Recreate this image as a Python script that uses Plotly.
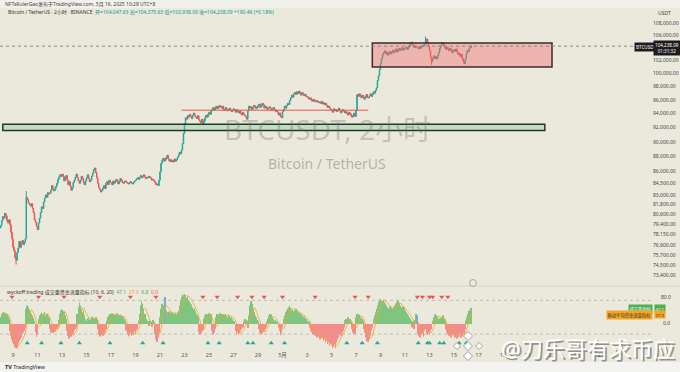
import pandas as pd
import numpy as np
import plotly.graph_objects as go

# ------------------------------------------------------------------ data
START = "2025-04-08 00:00"       # first 2h candle (UTC+8)
FIRST_OPEN = 78900

closes = [
    # Apr 8
    79200, 79800, 80300, 80100, 80700, 80400, 79800, 79500, 79900, 79300, 78400, 77600,
    # Apr 9
    76600, 76200, 75400, 75100, 76000, 76500, 77300, 76600, 77100, 77400, 76900, 77200,
    # Apr 10
    77600, 82700, 82400, 82000, 81800, 81600, 81900, 81300, 80800, 79900, 79600, 79100,
    # Apr 11
    78700, 79500, 80100, 80800, 81500, 81300, 82100, 82600, 83000, 82700, 83300, 83100,
    # Apr 12
    83200, 83600, 84200, 83700, 83500, 83800, 84100, 84500, 85000, 85300, 85600, 85400,
    # Apr 13
    85700, 85400, 84800, 85200, 85500, 84900, 84300, 84700, 84100, 83600, 83900, 84600,
    # Apr 14
    84900, 85300, 85700, 85200, 84800, 84500, 84900, 85400, 85100, 84600, 84300, 84800,
    # Apr 15
    85200, 85600, 85100, 84700, 84900, 85400, 85800, 86300, 86500, 85900, 85200, 84500,
    # Apr 16
    83900, 83700, 83400, 83600, 83900, 84200, 83800, 84500, 84700, 84300, 84900, 84600,
    # Apr 17
    84600, 84300, 84800, 84500, 84700, 85000, 84800, 84400, 84700, 85100, 84900, 84600,
    # Apr 18
    84500, 84700, 84800, 84600, 84500, 84400, 84600, 84700, 84500, 84400, 84600, 84800,
    # Apr 19
    84900, 85100, 85200, 85000, 85300, 85500, 85200, 85400, 85600, 85300, 85100, 85300,
    # Apr 20
    85200, 85400, 85300, 85100, 84900, 85000, 84800, 84600, 84300, 84400, 84200, 84900,
    # Apr 21
    86000, 87100, 87500, 87800, 87400, 87600, 87900, 88200, 87700, 87400, 87600, 87300,
    # Apr 22
    87500, 87300, 87700, 87400, 87600, 87900, 88200, 88600, 88400, 88900, 89800, 91200,
    # Apr 23
    92600, 93400, 93200, 93700, 93500, 93900, 93600, 93300, 93800, 94100, 93700, 93500,
    # Apr 24
    93300, 93700, 93100, 92900, 92700, 93200, 92600, 92900, 93400, 93800, 93500, 93900,
    # Apr 25
    94200, 93900, 94400, 94600, 94900, 94500, 94800, 95100, 94700, 94900, 95200, 95000,
    # Apr 26
    94800, 95100, 94600, 94500, 94900, 94700, 94400, 94600, 94800, 94500, 94300, 94500,
    # Apr 27
    94700, 94500, 94200, 94600, 94300, 94100, 94400, 94000, 93800, 94200, 93900, 93700,
    # Apr 28
    93500, 93200, 94400, 95100, 94800, 95000, 94600, 94900, 95200, 95000, 94700, 94900,
    # Apr 29
    95200, 95400, 94900, 95100, 95500, 95300, 94800, 95100, 94900, 94600, 94800, 95000,
    # Apr 30
    94800, 94500, 94700, 94900, 94600, 94300, 94500, 94200, 93800, 94100, 93600, 93400,
    # May 1
    94300, 94600, 95100, 94800, 95200, 95500, 95300, 95900, 96300, 96700, 96400, 96900,
    # May 2
    97100, 96800, 97200, 96900, 97300, 97000, 96700, 97100, 96900, 96600, 96800, 96500,
    # May 3
    96500, 96300, 96100, 96300, 96000, 95800, 96100, 95900, 95700, 95900, 95800, 95600,
    # May 4
    95700, 95500, 95800, 95400, 95600, 95300, 95500, 95200, 94900, 95100, 94800, 94600,
    # May 5
    94500, 94200, 94700, 94400, 94600, 94300, 94500, 94800, 94400, 94100, 94300, 94600,
    # May 6
    94400, 94100, 94300, 94000, 93800, 94200, 94000, 93700, 93500, 93800, 94100, 93600,
    # May 7
    94500, 96800, 96500, 96900, 96600, 96300, 96700, 96400, 96100, 96500, 96800, 96300,
    # May 8
    96300, 96600, 96900, 96500, 96800, 97200, 97000, 97400, 97800, 98900, 99600, 100600,
    # May 9
    101500, 102300, 102900, 103200, 103500, 103000, 103300, 102800, 103100, 103400, 103000, 103300,
    # May 10
    103600, 103200, 103500, 103800, 103300, 103600, 103900, 103500, 103700, 104000, 103600, 103800,
    # May 11
    103900, 104100, 103700, 104000, 104300, 104600, 104900, 104500, 104200, 104000, 104300, 104100,
    # May 12
    104000, 103800, 104200, 103900, 104100, 104400, 104200, 104500, 104700, 105400, 104900, 104200,
    # May 13
    103500, 102500, 101800, 102300, 102700, 102300, 102600, 102200, 102800, 103300, 103900, 104300,
    # May 14
    104600, 104800, 104300, 104000, 103700, 104100, 103800, 103500, 103900, 103600, 103200, 103500,
    # May 15
    103700, 103400, 103800, 103300, 102900, 103100, 102600, 102900, 102300, 101800, 101500, 102200,
    # May 16
    103000, 103600, 103400, 103900, 104047.63, 104238.09,
]

# notable wick extremes: candle index -> price
wick_highs = {25: 83500, 416: 105800, 461: 104375.63, 380: 99200, 432: 104900}
wick_lows = {15: 74600, 422: 101300, 461: 103938.00, 98: 83300, 454: 101400}

# oscillator histogram (wyckoff volume / money flow), one value per candle
hist = [
    20, 30, 35, 28, 33, 25, 30, 22, 15, -20, -35, -45,
    -55, -60, -70, -65, -72, -58, -50, -45, -40, -30, -25, -20,
    -10, 45, 55, 50, 42, 38, 30, 25, 18, 10, -25, -37,
    -30, 15, 25, 30, 35, 28, 32, 35, 25, 30, 22, 18,
    -15, -25, -20, -27, -18, -22, -10, -15, -8, 12, 30, 40,
    43, 35, 38, 25, 15, -20, -35, -43, -30, -38, -25, -28,
    -20, -15, -10, 30, 50, 64, 55, 45, 35, 40, 25, 15,
    10, 18, 20, 12, 15, 20, 22, 18, 15, 20, 12, -15,
    -30, -37, -33, -25, -35, -28, -20, -15, 10, 20, 25, 30,
    28, 32, 25, 30, 22, 27, 32, 25, 20, 28, 24, 18,
    22, 15, 10, -20, -30, -37, -33, -25, -35, -30, -28, -22,
    -30, -20, -15, 10, 30, 55, 68, 60, 45, 30, 15, 10,
    8, -5, 10, 5, -8, 12, 6, -30, -45, -53, -40, -25,
    20, 45, 60, 55, 50, 80, 40, 35, 30, 37, 33, 28,
    35, 30, 25, 32, 28, 35, 40, 55, 70, 80, 88, 85,
    89, 85, 78, 82, 72, 68, 62, 58, 50, 45, 38, 30,
    25, 20, -25, -32, -28, -20, -15, 15, 25, 30, 22, 28,
    32, 25, 30, -20, -30, -25, -15, 20, 30, 25, 28, 32,
    25, 30, 22, 27, 30, 24, 20, 28, 25, 18, 22, 15,
    10, 8, -20, -30, -25, -32, -28, -20, -15, -10, 8, 15,
    12, 10, -12, 25, 55, 68, 60, 45, 35, 25, 20, 12,
    8, -15, -25, -30, -28, -20, -22, -15, -10, 8, 15, 25,
    30, 28, 20, 15, 10, 12, 8, 5, -10, -20, -33, -28,
    -10, 15, 25, 35, 40, 45, 50, 55, 48, 42, 38, 35,
    40, 45, 38, 32, 35, 28, 30, 25, 20, 22, 18, 15,
    10, 8, 5, -10, -20, -25, -30, -22, -35, -28, -40, -32,
    -38, -45, -35, -42, -50, -45, -55, -48, -60, -55, -65, -58,
    -62, -70, -68, -60, -72, -55, -45, -40, -30, -35, -25, -20,
    -10, 12, 15, 8, 20, 10, 15, 5, -15, -25, -30, -28,
    20, 30, 25, 28, 22, 18, 15, 10, -15, -25, -40, -50,
    -53, -45, -35, -20, -10, 15, 25, 35, 45, 55, 65, 72,
    75, 70, 68, 72, 65, 60, 55, 50, 45, 52, 48, 42,
    45, 50, 55, 60, 65, 70, 62, 55, 50, 45, 52, 48,
    40, 35, 30, 25, 20, 15, 10, -10, 8, -15, 12, 30,
    25, -30, -35, -40, -30, -25, -38, -20, -15, -28, -32, -25,
    -30, -20, -15, 10, 20, 28, 30, 25, 22, 15, 18, 10,
    20, 25, 15, 8, -15, -25, -30, -35, -20, -40, -30, -25,
    -35, -40, -30, -43, -38, -25, -30, -40, -35, -20, -28, -15,
    10, 20, 30, 40, 48, 47.1,
]
hist_special = [161, 408]        # candles flagged in blue
sell_signals = [11, 37, 62, 97, 127, 152, 198, 212, 232, 246, 258, 276, 308,
                347, 360, 408, 413, 420, 423, 432, 438]
buy_signals = [26, 40, 59, 77, 107, 139, 159, 203, 214, 242, 247, 265, 278,
               339, 354, 369, 409, 418, 420, 430, 434, 449, 456]
osc_levels = [70, -30]

# drawn zones / levels
support_zone = dict(t0="2025-04-08 04:00", t1="2025-05-22 10:00", lo=91600, hi=92500)
resist_zone = dict(t0="2025-05-08 08:00", t1="2025-05-23 00:00", lo=100970, hi=104740)
red_level = dict(t0="2025-04-22 18:00", t1="2025-05-08 00:00", price=94500)
last_price = 104238.09

price_ticks = [108000, 106000, 102000, 100000, 98000, 96000, 94000, 92000, 90000,
               88000, 86000, 84500, 83000, 81800, 80600, 79400, 78150, 76900,
               75700, 74500, 73400]
date_ticks = ["2025-04-09", "2025-04-11", "2025-04-13", "2025-04-15", "2025-04-17",
              "2025-04-19", "2025-04-21", "2025-04-23", "2025-04-25", "2025-04-27",
              "2025-04-29", "2025-05-01", "2025-05-03", "2025-05-05", "2025-05-07",
              "2025-05-09", "2025-05-11", "2025-05-13", "2025-05-15", "2025-05-17",
              "2025-05-19", "2025-05-21", "2025-05-23", "2025-05-25", "2025-05-27"]
date_labels = ["9", "11", "13", "15", "17", "19", "21", "23", "25", "27", "29", "5月",
               "3", "5", "7", "9", "11", "13", "15", "17", "19", "21", "23", "25", "27"]

# ------------------------------------------------------------------ derived
dates = pd.date_range(START, periods=len(closes), freq="2h")
opens = [FIRST_OPEN] + closes[:-1]
highs = [max(o, c) for o, c in zip(opens, closes)]
lows = [min(o, c) for o, c in zip(opens, closes)]
for i, v in wick_highs.items():
    highs[i] = max(highs[i], v)
for i, v in wick_lows.items():
    lows[i] = min(lows[i], v)
hist_ma = pd.Series(hist).rolling(6, min_periods=1).mean()

# ------------------------------------------------------------------ styling
W, H = 680, 372
BG = "#ebe9dc"
UP, DN = "#26a69a", "#ef5350"
FONT = "Noto Sans, Noto Sans CJK SC, sans-serif"
PLOT_R = 652


def px(x):
    return x / W


def py(y):
    return 1 - y / H


PX_PER_DAY = 12.25
x_anchor = pd.Timestamp("2025-04-09")
x_range = [x_anchor - pd.Timedelta(days=13 / PX_PER_DAY),
           x_anchor + pd.Timedelta(days=(PLOT_R - 13) / PX_PER_DAY)]
MAIN_TOP, MAIN_BOT = 9, 285
IND_TOP, IND_BOT = 287, 350
p_top = 108000 * np.exp((23 - MAIN_TOP) / 653)
p_bot = 108000 * np.exp((23 - MAIN_BOT) / 653)
IND_ZERO, IND_PER_PX = 324, 80 / 27
ind_range = [(IND_ZERO - IND_BOT) * IND_PER_PX, (IND_ZERO - IND_TOP) * IND_PER_PX]

fig = go.Figure()
fig.add_trace(go.Candlestick(
    x=dates, open=opens, high=highs, low=lows, close=closes,
    increasing=dict(line=dict(color=UP, width=1), fillcolor=UP),
    decreasing=dict(line=dict(color=DN, width=1), fillcolor=DN),
    whiskerwidth=0, showlegend=False, hoverinfo="skip", xaxis="x", yaxis="y"))

bar_colors = ["#74c277" if v >= 0 else "#f48484" for v in hist]
for i in hist_special:
    bar_colors[i] = "#6f9fd8"
fig.add_trace(go.Bar(x=dates, y=hist, marker=dict(color=bar_colors, line=dict(width=0)),
                     opacity=0.9, showlegend=False, hoverinfo="skip", xaxis="x2", yaxis="y2"))
fig.add_trace(go.Scatter(x=dates, y=hist_ma, mode="lines",
                         line=dict(color="#f5a623", width=0.8), showlegend=False,
                         hoverinfo="skip", xaxis="x2", yaxis="y2"))
SIG_TOP, SIG_BOT = (IND_ZERO - 297) * IND_PER_PX, (IND_ZERO - 343) * IND_PER_PX
fig.add_trace(go.Scatter(x=dates[sell_signals], y=[SIG_TOP] * len(sell_signals), mode="markers",
                         marker=dict(symbol="triangle-down", size=4.5, color="#ef5350"),
                         showlegend=False, hoverinfo="skip", xaxis="x2", yaxis="y2"))
fig.add_trace(go.Scatter(x=dates[buy_signals], y=[SIG_BOT] * len(buy_signals), mode="markers",
                         marker=dict(symbol="triangle-up", size=4.5, color="#26a69a"),
                         showlegend=False, hoverinfo="skip", xaxis="x2", yaxis="y2"))

shapes = []
# header / footer strips
shapes.append(dict(type="rect", xref="paper", yref="paper", x0=0, x1=1, y0=py(8), y1=1,
                   fillcolor="#f1f0ea", line=dict(width=0), layer="below"))
shapes.append(dict(type="rect", xref="paper", yref="paper", x0=0, x1=1, y0=0, y1=py(362),
                   fillcolor="#f3f3f1", line=dict(width=0), layer="below"))
# pane separator
shapes.append(dict(type="line", xref="paper", yref="paper", x0=0, x1=1, y0=py(286), y1=py(286),
                   line=dict(color="#d6d4c8", width=1)))
# zones
shapes.append(dict(type="rect", xref="x", yref="y", x0=support_zone["t0"], x1=support_zone["t1"],
                   y0=support_zone["lo"], y1=support_zone["hi"],
                   fillcolor="rgba(120,200,150,0.35)", line=dict(color="#23382c", width=1.5)))
shapes.append(dict(type="rect", xref="x", yref="y", x0=resist_zone["t0"], x1=resist_zone["t1"],
                   y0=resist_zone["lo"], y1=resist_zone["hi"],
                   fillcolor="rgba(240,110,110,0.42)", line=dict(color="#3d2a2a", width=1.5)))
shapes.append(dict(type="line", xref="x", yref="y", x0=red_level["t0"], x1=red_level["t1"],
                   y0=red_level["price"], y1=red_level["price"],
                   line=dict(color="#ef5350", width=1)))
# last price dotted line
shapes.append(dict(type="line", xref="paper", yref="y", x0=0, x1=px(634),
                   y0=last_price, y1=last_price, line=dict(color="#8a8a8a", width=1, dash="dot")))
# oscillator levels
for lv in osc_levels:
    shapes.append(dict(type="line", xref="x2 domain", yref="y2", x0=0, x1=1, y0=lv, y1=lv,
                       line=dict(color="#b5b3a8", width=0.8, dash="dot")))
# small icon
shapes.append(dict(type="circle", xref="paper", yref="paper", x0=px(469.5), x1=px(476.5),
                   y0=py(286.5), y1=py(279.5), line=dict(color="#9a9a9a", width=0.8)))
# binance-like mark of the bottom watermark
cx, cy = 468, 346
for dx, dy, r in [(0, 0, 4.5), (-11, 0, 3.5), (11, 0, 3.5), (0, -10, 4.5), (0, 10, 4.5)]:
    x_c, y_c = cx + dx, cy + dy
    path = (f"M {px(x_c - r)},{py(y_c)} L {px(x_c)},{py(y_c - r)} "
            f"L {px(x_c + r)},{py(y_c)} L {px(x_c)},{py(y_c + r)} Z")
    shapes.append(dict(type="path", xref="paper", yref="paper", path=path,
                       fillcolor="white", line=dict(color="#8a8a8a", width=0.8)))

ann = []


def text(x, y, s, size, color="#333", xanchor="left", **kw):
    ann.append(dict(x=px(x), y=py(y), xref="paper", yref="paper", text=s, showarrow=False,
                    xanchor=xanchor, yanchor="middle", font=dict(size=size, color=color, family=FONT),
                    **kw))


text(3, 4.5, "NFTsRulerGao发布于TradingView.com, 5月 16, 2025 10:28 UTC+8", 5, "#444")
G = "#089981"
text(6, 13, "Bitcoin / TetherUS · 2小时 · BINANCE  "
     f"<span style='color:{G}'>开=104,047.63 高=104,375.63 低=103,938.00 收=104,238.09 +190.46 (+0.18%)</span>",
     5, "#333")
text(327, 129, "BTCUSDT, 2小时", 28, "rgba(105,105,100,0.33)", xanchor="center")
text(327, 163, "Bitcoin / TetherUS", 14, "rgba(105,105,100,0.45)", xanchor="center")
text(656, 13, "USDT", 5, "#444")
text(634, 47, "BTCUSDT", 4.6, "white", bgcolor="#1c1c1c", borderpad=1)
text(653, 48, "104,238.09<br>01:31:32", 4.6, "white", bgcolor="#1c1c1c", borderpad=1)
text(5, 292, "wyckoff trading 成交量资金流量指标 (10, 6, 20)  "
     "<span style='color:#4caf50'>47.1</span>  <span style='color:#f5a623'>27.3</span>  "
     "<span style='color:#4caf50'>6.8</span>  <span style='color:#ef5350'>0.0</span>", 5, "#333")
text(659, 297, "80.0", 5, "#444")
text(661, 323, "0.0", 5, "#444")
text(653, 308.5, "成交量指标", 4.3, "white", xanchor="right", bgcolor="#4caf50", borderpad=0.5)
text(654, 308.5, "47.1", 4.3, "white", bgcolor="#4caf50", borderpad=0.5)
text(653, 314.8, "移动平均资金流量指标", 4.3, "#333", xanchor="right", bgcolor="#f5a623", borderpad=0.5)
text(654, 314.8, "27.3", 4.3, "#333", bgcolor="#f5a623", borderpad=0.5)
text(3, 367, "<b>TV</b> TradingView", 5.5, "#222")
# bottom-right watermark with shadow
text(500.5, 349.5, "@刀乐哥有求币应", 22, "rgba(70,70,70,0.55)")
text(499, 348, "@刀乐哥有求币应", 22, "white")

fig.update_layout(
    width=W, height=H, margin=dict(l=0, r=0, t=0, b=0),
    paper_bgcolor=BG, plot_bgcolor=BG, bargap=0.35,
    shapes=shapes, annotations=ann, hovermode=False,
    xaxis=dict(domain=[0, px(PLOT_R)], range=x_range, type="date", showticklabels=False,
               showgrid=False, zeroline=False, rangeslider=dict(visible=False), anchor="y"),
    yaxis=dict(domain=[py(MAIN_BOT), py(MAIN_TOP)], type="log",
               range=[np.log10(p_bot), np.log10(p_top)], side="right",
               tickvals=price_ticks, ticktext=[f"{v:,.2f}" for v in price_ticks],
               tickfont=dict(size=5, color="#444", family=FONT), showgrid=False,
               zeroline=False, ticks="", anchor="x"),
    xaxis2=dict(domain=[0, px(PLOT_R)], range=x_range, type="date", matches="x",
                tickvals=date_ticks, ticktext=date_labels,
                tickfont=dict(size=5.5, color="#555", family=FONT), showgrid=False,
                zeroline=False, ticks="", anchor="y2"),
    yaxis2=dict(domain=[py(IND_BOT), py(IND_TOP)], range=ind_range, side="right",
                showticklabels=False, showgrid=False, zeroline=False, anchor="x2"),
)

fig.write_html("out.html", config={"displayModeBar": False},
               post_script="document.body.style.margin='0';document.body.style.padding='0';"
                           "document.body.style.overflow='hidden';")
